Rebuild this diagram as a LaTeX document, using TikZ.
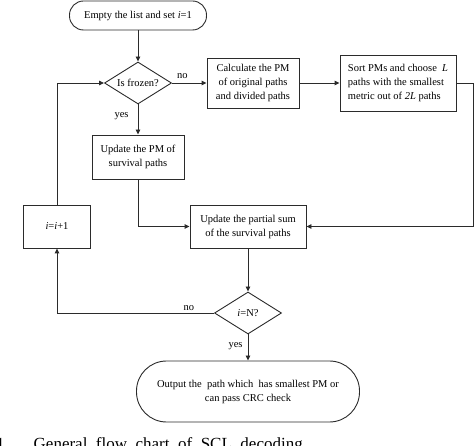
\documentclass[tikz,border=0pt]{standalone}
\usepackage{fontspec}
\setmainfont{Liberation Serif}
\usetikzlibrary{arrows.meta,shapes.geometric}
\definecolor{ink}{HTML}{2B2B2B}
\tikzset{
  box/.style={draw=ink,line width=.9pt,inner sep=2pt,align=center,font=\fontsize{10.5}{14}\selectfont},
  term/.style={box,rounded corners=14pt},
  dec/.style={box,shape=diamond,inner sep=0pt,aspect=1.6,minimum width=67pt,minimum height=42pt},
  lbl/.style={font=\fontsize{10.5}{12}\selectfont,inner sep=1pt},
  ar/.style={-{Triangle[length=5pt,width=4.5pt]},draw=ink,line width=.9pt},
}
\begin{document}
\begin{tikzpicture}[x=1pt,y=-1pt]
  \useasboundingbox (0,0) rectangle (474,446);
  % ── main column ──
  \node[term,minimum width=137pt,minimum height=29pt] (start) at (138,15.5) {Empty the list and set \textit{i}=1};
  \node[dec] (frz) at (138,83) {Is frozen?};
  \node[box,minimum width=92pt,minimum height=44pt] (upd) at (138,157) {Update the PM of\\survival paths};
  \node[box,minimum width=67pt,minimum height=43pt] (inc) at (57,226.5) {\textit{i}=\textit{i}+1};
  % ── top row ──
  \node[box,minimum width=92pt,minimum height=50pt] (calc) at (253,83) {Calculate the PM\\of original paths\\and divided paths};
  \node[box,align=left,minimum width=116pt,minimum height=56pt] (sort) at (398,83) {Sort PMs and choose\ \ \textit{L}\\paths with the smallest\\metric out of \textit{2L} paths};
  % ── lower part ──
  \node[box,minimum width=116pt,minimum height=43pt] (psum) at (248,226.5) {Update the partial sum\\of the survival paths};
  \node[dec] (iN) at (248,313) {\textit{i}=N?};
  \node[term,rounded corners=30pt,minimum width=223pt,minimum height=61pt] (out) at (248,391.5) {Output the\ \ path which\ \ has smallest PM or\\can pass CRC check};
  \coordinate (rt) at (473,83);
  \coordinate (rb) at (473,226.5);
  \coordinate (lt) at (57,83);
  \coordinate (lb) at (57,313);
  \draw[ar] (start)--(frz);
  \draw[ar] (frz.east)--node[lbl,above,pos=.3,yshift=3pt]{no}(calc.west);
  \draw[ar] (calc)--(sort);
  \draw[ar] (sort.east)--(rt)--(rb)--(psum.east);
  \draw[ar] (frz.south)--node[lbl,left,pos=.4,xshift=-8pt]{yes}(upd.north);
  \draw[ar] (upd.south)|-(psum.west);
  \draw[ar] (psum)--(iN);
  \draw[ar] (iN.west)--node[lbl,above,pos=.16,yshift=1pt]{no}(lb)--(inc.south);
  \draw[ar] (inc.north)--(lt)--(frz.west);
  \draw[ar] (iN.south)--node[lbl,left,pos=.45,xshift=-4pt]{yes}(out.north);
  % caption, cut by the page edge
  \node[anchor=base west,font=\fontsize{17}{19}\selectfont,inner sep=0pt] (cap) at (-4,449.5) {1\hspace{29pt}General\ \ flow\ \ chart\ \ of\ \ SCL\ \ decoding};
\end{tikzpicture}
\end{document}
